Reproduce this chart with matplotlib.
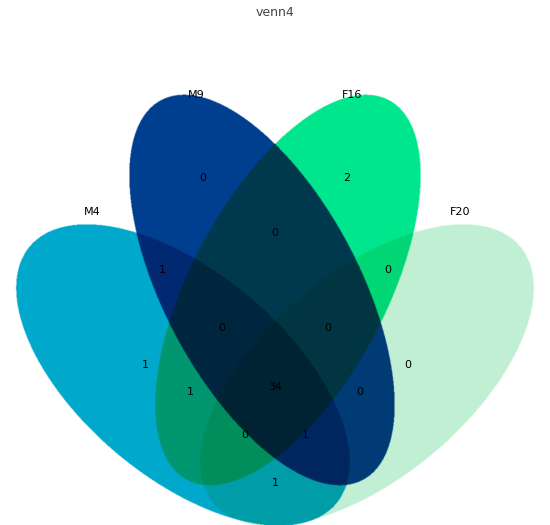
import numpy as np
import matplotlib.pyplot as plt
from matplotlib.colors import to_rgb

# set names and colours
set_names = ["M4", "M9", "F16", "F20"]
set_colors = ["#00a8cc", "#003f8f", "#00e68c", "#c2efd4"]

# region counts (keyed by member sets)
region_keys = ["M9", "F16", "M9&F16", "M4&M9", "F16&F20", "M4", "F20",
               "M4&M9&F16", "M9&F16&F20", "M4&F16", "M4&M9&F16&F20", "M9&F20",
               "M4&F16&F20", "M4&M9&F20", "M4&F20"]
region_counts = [0, 2, 0, 1, 0, 1, 0, 0, 0, 1, 34, 0, 0, 1, 1]

# layout in pixel-like coordinates (y downwards)
ellipse_geom = {
    "M4": ((183, 375), 400, 205, 40),
    "M9": ((262, 290), 430, 195, 62),
    "F16": ((288, 290), 430, 195, -62),
    "F20": ((367, 375), 400, 205, -40),
}
name_pos = {"M4": (92, 212), "M9": (196, 95), "F16": (352, 95), "F20": (460, 212)}
region_pos = [(203, 178), (347, 178), (275, 233), (162, 270), (388, 270),
              (145, 365), (408, 365), (222, 328), (328, 328), (190, 392),
              (275, 387), (360, 392), (245, 435), (305, 435), (275, 483)]

W, H = 550, 525
xs, ys = np.meshgrid(np.arange(W * 2) / 2 + 0.25, np.arange(H * 2) / 2 + 0.25)
img = np.ones((H * 2, W * 2, 3))

# multiply-blend each ellipse
for name, color in zip(set_names, set_colors):
    (cx, cy), w, h, ang = ellipse_geom[name]
    t = np.deg2rad(ang)
    dx, dy = xs - cx, ys - cy
    u = dx * np.cos(t) + dy * np.sin(t)
    v = -dx * np.sin(t) + dy * np.cos(t)
    inside = (u / (w / 2)) ** 2 + (v / (h / 2)) ** 2 <= 1
    img[inside] *= np.array(to_rgb(color))

fig = plt.figure(figsize=(5.5, 5.25), dpi=100)
ax = fig.add_axes([0, 0, 1, 1])
ax.imshow(img, extent=(0, W, H, 0), interpolation="bilinear")
ax.set_xlim(0, W)
ax.set_ylim(H, 0)
ax.axis("off")

for name in set_names:
    x, y = name_pos[name]
    ax.text(x, y, name, ha="center", va="center", fontsize=8)

for (x, y), c in zip(region_pos, region_counts):
    ax.text(x, y, str(c), ha="center", va="center", fontsize=8)

ax.text(275, 12, "venn4", ha="center", va="center", fontsize=9, color="#444444")

fig.savefig("out.png", dpi=100)
